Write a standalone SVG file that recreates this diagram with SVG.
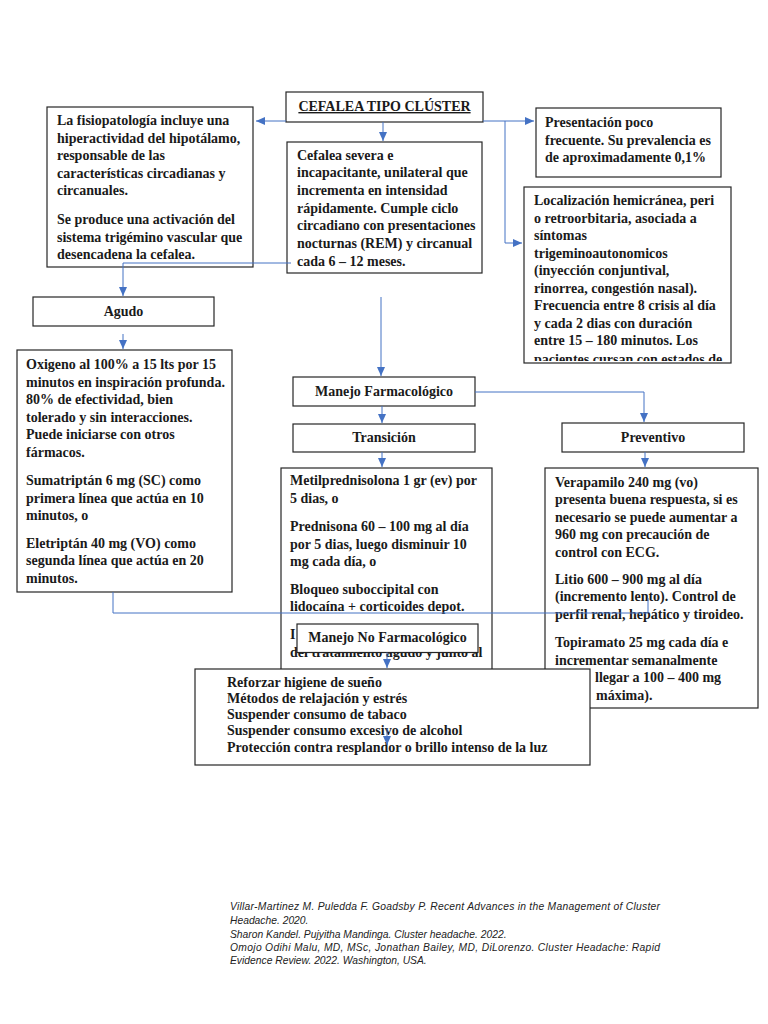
<svg xmlns="http://www.w3.org/2000/svg" width="768" height="1024" viewBox="0 0 768 1024">
<style>
.b{fill:#fff;stroke:#262626;stroke-width:1.2}
.t{font-family:"Liberation Serif","Times New Roman",serif;font-weight:bold;font-size:14px;fill:#1a1a1a}
.c{text-anchor:middle}
.ref{font-family:"Liberation Sans",Arial,sans-serif;font-style:italic;font-size:10.3px;fill:#222}
.k{fill:none;stroke:#4472C4;stroke-width:1}
</style>
<defs>
<marker id="ar" markerUnits="userSpaceOnUse" markerWidth="10" markerHeight="10" viewBox="0 0 10 10" refX="9" refY="5" orient="auto">
<path d="M0,1 L9,5 L0,9 Z" fill="#4472C4"/>
</marker>
<clipPath id="clipLoc"><rect x="524" y="187" width="207" height="174"/></clipPath>
</defs>
<rect width="768" height="1024" fill="#fff"/>

<g id="title">
<rect class="b" x="286" y="92" width="197" height="30"/>
<text class="t c" x="384.5" y="111" text-decoration="underline">CEFALEA TIPO CLÚSTER</text>
</g>

<g id="fisiopatologia">
<rect class="b" x="47" y="107" width="206" height="160"/>
<text class="t" x="57" y="125">La fisiopatología incluye una</text>
<text class="t" x="57" y="142.5">hiperactividad del hipotálamo,</text>
<text class="t" x="57" y="160">responsable de las</text>
<text class="t" x="57" y="177.5">características circadianas y</text>
<text class="t" x="57" y="195">circanuales.</text>
<text class="t" x="57" y="224">Se produce una activación del</text>
<text class="t" x="57" y="241.5">sistema trigémino vascular que</text>
<text class="t" x="57" y="259">desencadena la cefalea.</text>
</g>

<g id="descripcion">
<rect class="b" x="287" y="142" width="195" height="131"/>
<text class="t" x="297" y="159.5">Cefalea severa e</text>
<text class="t" x="297" y="177.2">incapacitante, unilateral que</text>
<text class="t" x="297" y="194.9">incrementa en intensidad</text>
<text class="t" x="297" y="212.6">rápidamente. Cumple ciclo</text>
<text class="t" x="297" y="230.3">circadiano con presentaciones</text>
<text class="t" x="297" y="248">nocturnas (REM) y circanual</text>
<text class="t" x="297" y="265.7">cada 6 – 12 meses.</text>
</g>

<g id="presentacion">
<rect class="b" x="536" y="108" width="185" height="69"/>
<text class="t" x="545" y="127">Presentación poco</text>
<text class="t" x="545" y="144.5">frecuente. Su prevalencia es</text>
<text class="t" x="545" y="162">de aproximadamente 0,1%</text>
</g>

<g id="localizacion">
<rect class="b" x="524" y="187" width="207" height="176"/>
<g clip-path="url(#clipLoc)">
<text class="t" x="534" y="205">Localización hemicránea, peri</text>
<text class="t" x="534" y="222.5">o retroorbitaria, asociada a</text>
<text class="t" x="534" y="240">síntomas</text>
<text class="t" x="534" y="257.5">trigeminoautonomicos</text>
<text class="t" x="534" y="275">(inyección conjuntival,</text>
<text class="t" x="534" y="292.5">rinorrea, congestión nasal).</text>
<text class="t" x="534" y="310">Frecuencia entre 8 crisis al día</text>
<text class="t" x="534" y="327.5">y cada 2 dias con duración</text>
<text class="t" x="534" y="345">entre 15 – 180 minutos. Los</text>
<text class="t" x="534" y="364">pacientes cursan con estados de</text>
</g>
</g>

<g id="agudo">
<rect class="b" x="33" y="297" width="181" height="29"/>
<text class="t c" x="123.5" y="316">Agudo</text>
</g>

<g id="agudo-tratamiento">
<rect class="b" x="17" y="350" width="215" height="242"/>
<text class="t" x="26" y="369">Oxigeno al 100% a 15 lts por 15</text>
<text class="t" x="26" y="386.5">minutos en inspiración profunda.</text>
<text class="t" x="26" y="404">80% de efectividad, bien</text>
<text class="t" x="26" y="421.5">tolerado y sin interacciones.</text>
<text class="t" x="26" y="439">Puede iniciarse con otros</text>
<text class="t" x="26" y="456.5">fármacos.</text>
<text class="t" x="26" y="485">Sumatriptán 6 mg (SC) como</text>
<text class="t" x="26" y="502.5">primera línea que actúa en 10</text>
<text class="t" x="26" y="520">minutos, o</text>
<text class="t" x="26" y="547.5">Eletriptán 40 mg (VO) como</text>
<text class="t" x="26" y="565">segunda línea que actúa en 20</text>
<text class="t" x="26" y="582.5">minutos.</text>
</g>

<g id="manejo-farmacologico">
<rect class="b" x="293" y="377" width="182" height="29"/>
<text class="t c" x="384" y="396">Manejo Farmacológico</text>
</g>

<g id="transicion">
<rect class="b" x="293" y="424" width="182" height="28"/>
<text class="t c" x="384" y="442">Transición</text>
</g>

<g id="transicion-tratamiento">
<rect class="b" x="281" y="468" width="211" height="210"/>
<text class="t" x="290" y="485">Metilprednisolona 1 gr (ev) por</text>
<text class="t" x="290" y="502.5">5 dias, o</text>
<text class="t" x="290" y="531">Prednisona 60 – 100 mg al día</text>
<text class="t" x="290" y="548.5">por 5 dias, luego disminuir 10</text>
<text class="t" x="290" y="566">mg cada día, o</text>
<text class="t" x="290" y="594">Bloqueo suboccipital con</text>
<text class="t" x="290" y="611">lidocaína + corticoides depot.</text>
<text class="t" x="290" y="639">I</text>
<text class="t" x="290" y="656.5">del tratamiento agudo y junto al</text>
</g>

<g id="preventivo">
<rect class="b" x="562" y="423" width="182" height="29"/>
<text class="t c" x="653" y="442">Preventivo</text>
</g>

<g id="preventivo-tratamiento">
<rect class="b" x="545" y="468" width="213" height="240"/>
<text class="t" x="555" y="486.5">Verapamilo 240 mg (vo)</text>
<text class="t" x="555" y="504">presenta buena respuesta, si es</text>
<text class="t" x="555" y="521.5">necesario se puede aumentar a</text>
<text class="t" x="555" y="539">960 mg con precaución de</text>
<text class="t" x="555" y="556.5">control con ECG.</text>
<text class="t" x="555" y="583.5">Litio 600 – 900 mg al día</text>
<text class="t" x="555" y="601">(incremento lento). Control de</text>
<text class="t" x="555" y="618.5">perfil renal, hepático y tiroideo.</text>
<text class="t" x="555" y="647">Topiramato 25 mg cada día e</text>
<text class="t" x="555" y="664.5">incrementar semanalmente</text>
<text class="t" x="595" y="682">llegar a 100 – 400 mg</text>
<text class="t" x="596" y="699.5">máxima).</text>
</g>

<g id="manejo-no-farmacologico">
<rect class="b" x="297" y="624" width="181" height="28.5"/>
<text class="t c" x="387.5" y="642">Manejo No Farmacológico</text>
</g>

<g id="no-farmacologico-medidas">
<rect class="b" x="195" y="669" width="395" height="96"/>
<text class="t" x="227" y="687">Reforzar higiene de sueño</text>
<text class="t" x="227" y="703">Métodos de relajación y estrés</text>
<text class="t" x="227" y="719">Suspender consumo de tabaco</text>
<text class="t" x="227" y="735">Suspender consumo excesivo de alcohol</text>
<text class="t" x="227" y="752">Protección contra resplandor o brillo intenso de la luz</text>
</g>

<g id="connectors">
<path class="k" d="M286,121 H256" marker-end="url(#ar)"/>
<path class="k" d="M383,122 V141" marker-end="url(#ar)"/>
<path class="k" d="M483,121 H534" marker-end="url(#ar)"/>
<path class="k" d="M505,121 V243 H522" marker-end="url(#ar)"/>
<path class="k" d="M291,263 H123 V296" marker-end="url(#ar)"/>
<path class="k" d="M123,334 V349" marker-end="url(#ar)"/>
<path class="k" d="M381,297 V376" marker-end="url(#ar)"/>
<path class="k" d="M382,406 V423" marker-end="url(#ar)"/>
<path class="k" d="M382,452 V467" marker-end="url(#ar)"/>
<path class="k" d="M475,392 H644 V422" marker-end="url(#ar)"/>
<path class="k" d="M645,452 V467" marker-end="url(#ar)"/>
<path class="k" d="M113,592 V613 H648 V598"/>
<path class="k" d="M387,652.5 V668" marker-end="url(#ar)"/>
<path class="k" d="M387,728 V745" marker-end="url(#ar)"/>
</g>

<g id="referencias">
<text class="ref" x="230" y="910" textLength="430" lengthAdjust="spacing">Villar-Martinez M. Puledda F. Goadsby P. Recent Advances in the Management of Cluster</text>
<text class="ref" x="230" y="924">Headache. 2020.</text>
<text class="ref" x="230" y="937.5">Sharon Kandel. Pujyitha Mandinga. Cluster headache. 2022.</text>
<text class="ref" x="230" y="950.5" textLength="430" lengthAdjust="spacing">Omojo Odihi Malu, MD, MSc, Jonathan Bailey, MD, DiLorenzo. Cluster Headache: Rapid</text>
<text class="ref" x="230" y="964">Evidence Review. 2022. Washington, USA.</text>
</g>
</svg>
